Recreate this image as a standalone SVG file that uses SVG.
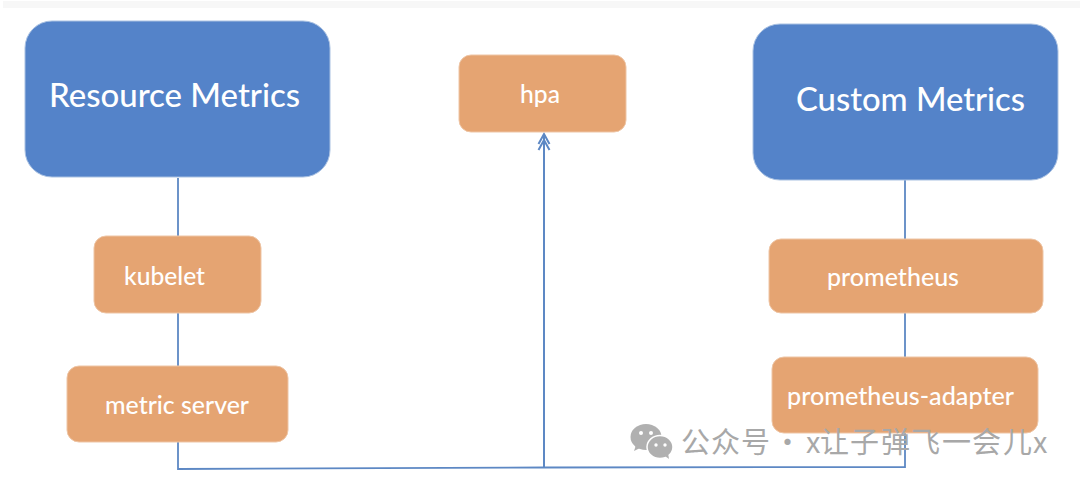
<svg xmlns="http://www.w3.org/2000/svg" width="1080" height="485" viewBox="0 0 1080 485">
<style>
.b{fill:#5483c9;stroke:#a9c1e2;stroke-width:1}
.o{fill:#e5a472;stroke:#eec5a5;stroke-width:1}
text{font-family:Lato,"Open Sans",sans-serif;fill:#fff;font-weight:500}
.big{font-size:33px}
.sm{font-size:24px}
.c{fill:none;stroke:#5d88c4;stroke-width:1.800}
.a{fill:none;stroke:#5d88c4;stroke-width:2}
.w{font-family:"Noto Sans CJK SC","Noto Sans",sans-serif;font-size:29px;fill:#a8a8a8;font-weight:400}
</style>
<rect x="3" y="1" width="1077" height="7" fill="#f7f7f7"/>
<g id="connectors">
<path class="c" d="M178 178V469L544 467.500L905 467V180"/>
<path class="a" d="M544 467V135"/>
<path class="a" d="M538.500 144L544 134L549.500 144M538.500 150L544 140L549.500 150"/>
</g>
<g id="resource-metrics"><rect class="b" x="25" y="21" width="305" height="156" rx="27"/><text class="big" x="49" y="107" textLength="251" lengthAdjust="spacingAndGlyphs">Resource Metrics</text></g>
<g id="hpa"><rect class="o" x="459" y="55" width="167" height="77" rx="12"/><text class="sm" x="520" y="103" textLength="40" lengthAdjust="spacingAndGlyphs">hpa</text></g>
<g id="custom-metrics"><rect class="b" x="753" y="24" width="305" height="156" rx="27"/><text class="big" x="796" y="111" textLength="229" lengthAdjust="spacingAndGlyphs">Custom Metrics</text></g>
<g id="kubelet"><rect class="o" x="94" y="236" width="167" height="77" rx="12"/><text class="sm" x="124" y="285" textLength="81" lengthAdjust="spacingAndGlyphs">kubelet</text></g>
<g id="metric-server"><rect class="o" x="67" y="366" width="221" height="76" rx="12"/><text class="sm" x="105" y="414" textLength="144" lengthAdjust="spacingAndGlyphs">metric server</text></g>
<g id="prometheus"><rect class="o" x="769" y="239" width="274" height="74" rx="12"/><text class="sm" x="827" y="286" textLength="132" lengthAdjust="spacingAndGlyphs">prometheus</text></g>
<g id="prometheus-adapter"><rect class="o" x="772" y="357" width="266" height="76" rx="12"/><text class="sm" x="787" y="405" textLength="227" lengthAdjust="spacingAndGlyphs">prometheus-adapter</text></g>
<g id="watermark">
<ellipse cx="646" cy="437" rx="15.500" ry="13" fill="#b0b0b0"/>
<path d="M636 445l-2 6 8-4z" fill="#b0b0b0"/>
<ellipse cx="660" cy="447" rx="13" ry="11.500" fill="#b0b0b0" stroke="#fff" stroke-width="1.500"/>
<path d="M665 456l4 3-1-6z" fill="#b0b0b0"/>
<circle cx="641" cy="433" r="2" fill="#fff"/><circle cx="651" cy="433" r="2" fill="#fff"/><circle cx="656" cy="445" r="1.700" fill="#fff"/><circle cx="665" cy="445" r="1.700" fill="#fff"/>
<text class="w" y="453" x="681 711 741 773 806 820 850 881 911 942 972 1003 1033">公众号·x让子弹飞一会儿x</text>
</g>
</svg>
